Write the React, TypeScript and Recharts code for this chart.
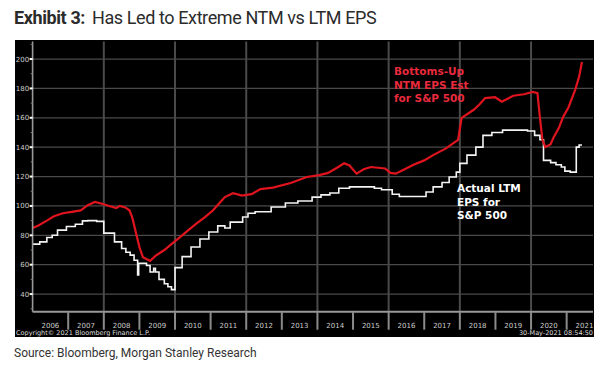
import { LineChart, Line, XAxis, YAxis, CartesianGrid } from "recharts"

// Bottoms-up NTM EPS estimate (red)
const ntmT = [
  2006.0, 2006.15, 2006.4, 2006.6, 2006.85, 2007.1, 2007.35, 2007.55, 2007.75, 2007.95,
  2008.15, 2008.35, 2008.45, 2008.6, 2008.72, 2008.8, 2008.9, 2009.0, 2009.1, 2009.3,
  2009.45, 2009.7, 2009.95, 2010.15, 2010.4, 2010.6, 2010.85, 2011.07, 2011.25, 2011.4,
  2011.63, 2011.88, 2012.15, 2012.4, 2012.75, 2013.25, 2013.7, 2014.05, 2014.3, 2014.55,
  2014.75, 2014.9, 2015.1, 2015.3, 2015.5, 2015.9, 2016.05, 2016.2, 2016.45, 2016.7,
  2017.0, 2017.25, 2017.6, 2017.95, 2018.05, 2018.38, 2018.55, 2018.71, 2018.99, 2019.18,
  2019.5, 2019.8, 2020.05, 2020.18, 2020.25, 2020.32, 2020.4, 2020.55, 2020.64, 2020.78,
  2020.9, 2021.05, 2021.24, 2021.35, 2021.43,
]
const ntmV = [
  85, 86.5, 90, 93, 95, 96, 97, 100.5, 102.7, 101.5,
  100, 98.5, 100, 99, 97, 92, 82, 72, 65, 62.5,
  66, 70, 75, 79, 84, 88, 92.5, 97, 102, 106,
  108.7, 107, 108, 111.5, 112.5, 115.6, 119.7, 121, 122.5, 126,
  129, 127.5, 122, 125, 126.5, 125.5, 122.5, 122, 125, 128,
  131, 134.6, 139, 145, 160, 165.3, 169, 173.4, 174, 171,
  175, 176, 177.6, 176.8, 160, 145, 140, 142, 147, 153,
  160.5, 167, 179, 188, 198,
]

// Actual LTM EPS (white, stepped)
const ltmT = [
  2006.0, 2006.2, 2006.4, 2006.55, 2006.7, 2006.95, 2007.2, 2007.4, 2007.55, 2007.8,
  2008.0, 2008.3, 2008.5, 2008.62, 2008.74, 2008.85, 2008.95, 2008.98, 2009.2, 2009.3,
  2009.4, 2009.45, 2009.55, 2009.7, 2009.8, 2009.9, 2010.0, 2010.2, 2010.45, 2010.7,
  2010.95, 2011.2, 2011.4, 2011.55, 2011.9, 2012.05, 2012.25, 2012.7, 2013.1, 2013.45,
  2013.85, 2014.1, 2014.35, 2014.6, 2014.9, 2015.6, 2015.8, 2016.1, 2016.3, 2017.05,
  2017.25, 2017.5, 2017.7, 2017.9, 2018.0, 2018.2, 2018.45, 2018.65, 2018.9, 2019.2,
  2019.9, 2020.1, 2020.25, 2020.35, 2020.55, 2020.7, 2020.85, 2020.95, 2021.1, 2021.27,
  2021.35, 2021.43,
]
const ltmV = [
  74, 75.5, 78.5, 80, 83.5, 86, 87.5, 89.8, 90, 89.5,
  81.5, 75.5, 71, 68.5, 66.5, 63, 53, 61, 59.5, 55,
  57.5, 55, 50, 47, 45, 43, 58, 65.5, 72, 77.5,
  82.3, 86.4, 85, 89, 92.5, 95, 96, 99.3, 102, 103.4,
  106, 107.5, 108.8, 112, 113, 112, 111, 108, 106.4, 109.5,
  113, 116, 119.7, 123, 129, 134.6, 140, 148, 150, 151.6,
  151, 148, 145, 131, 129.5, 128, 126.5, 123.7, 123, 140,
  141.5, 141.5,
]

const yearStarts = [2006, 2007, 2008, 2009, 2010, 2011, 2012, 2013, 2014, 2015, 2016, 2017, 2018, 2019, 2020, 2021]
const yearLabels = ["2006", "2007", "2008", "2009", "2010", "2011", "2012", "2013", "2014", "2015", "2016", "2017", "2018", "2019", "2020", "2021"]
const yTicks = [30, 40, 50, 60, 70, 80, 90, 100, 110, 120, 130, 140, 150, 160, 170, 180, 190, 200, 210]
const gridY = [40, 60, 80, 100, 120, 140, 160, 180, 200]
const gridX = [2008, 2010, 2012, 2014, 2016, 2018, 2020]

const ntmData = ntmT.map((t, i) => ({ t, v: ntmV[i] }))
const ltmData = ltmT.map((t, i) => ({ t, v: ltmV[i] }))

const X_DOMAIN: [number, number] = [2006, 2021.74]
const Y_DOMAIN: [number, number] = [28, 212]
const CHART_W = 579
const CHART_H = 297
const MARGIN = { top: 1.4, right: 1, bottom: 0, left: 0 }
const Y_AXIS_W = 17.6
const X_AXIS_H = 25.3
// half a year in pixels, to centre the year names between separators
const HALF_YEAR = (CHART_W - Y_AXIS_W - MARGIN.right) / (X_DOMAIN[1] - X_DOMAIN[0]) / 2

const axisFont = "'DejaVu Sans', sans-serif"
const gridColor = "#4a4a4a"

// eslint-disable-next-line @typescript-eslint/no-explicit-any
const YTick = ({ x, y, payload }: any) => {
  const major = payload.value % 20 === 0 && payload.value >= 40 && payload.value <= 200
  if (!major) {
    return <rect x={x - 2} y={y - 0.5} width={2} height={1} fill="#777" />
  }
  return (
    <g>
      <rect x={x - 3} y={y - 1} width={3} height={2} fill="#fff" />
      <text x={x - 3.5} y={y + 2.5} textAnchor="end" fontSize={7} fill="#ccc" fontFamily={axisFont}>
        {payload.value}
      </text>
    </g>
  )
}

// year separator below the axis plus the year name centred in its slot
// eslint-disable-next-line @typescript-eslint/no-explicit-any
const YearTick = ({ x, y, payload }: any) => {
  const i = yearStarts.indexOf(payload.value)
  return (
    <g>
      {i > 0 && <rect x={x - 1} y={y} width={2} height={18} fill="#8a8a8a" />}
      <text x={x + HALF_YEAR} y={y + 16} textAnchor="middle" fontSize={7} fill="#ccc" fontFamily={axisFont}>
        {yearLabels[i]}
      </text>
    </g>
  )
}

export default function App() {
  return (
    <div style={{ position: "absolute", left: 0, top: 0, width: 609, height: 370, background: "#fff", fontFamily: "Roboto, sans-serif" }}>
      <div style={{ position: "absolute", left: 14, top: 7, fontSize: 18, color: "#2b2b2b", whiteSpace: "nowrap", letterSpacing: -0.4 }}>
        <span style={{ fontWeight: 700 }}>Exhibit 3:</span>
        <span style={{ marginLeft: 7 }}>Has Led to Extreme NTM vs LTM EPS</span>
      </div>

      <div style={{ position: "absolute", left: 15, top: 40, width: CHART_W, height: CHART_H, background: "#000" }}>
        <LineChart width={CHART_W} height={CHART_H} margin={MARGIN}>
          <CartesianGrid stroke={gridColor} strokeWidth={1.2} vertical={false} horizontalValues={gridY} />
          <CartesianGrid stroke={gridColor} strokeWidth={2} horizontal={false} verticalValues={gridX} />
          <XAxis
            type="number"
            dataKey="t"
            domain={X_DOMAIN}
            allowDataOverflow
            ticks={yearStarts}
            interval={0}
            tick={<YearTick />}
            tickSize={0}
            tickMargin={0}
            tickLine={false}
            height={X_AXIS_H}
            axisLine={{ stroke: "#999", strokeWidth: 2 }}
          />
          <YAxis
            type="number"
            domain={Y_DOMAIN}
            allowDataOverflow
            ticks={yTicks}
            interval={0}
            width={Y_AXIS_W}
            tickSize={0}
            tickMargin={0}
            tickLine={false}
            axisLine={{ stroke: "#999", strokeWidth: 1.6 }}
            tick={<YTick />}
          />
          <Line
            data={ltmData}
            dataKey="v"
            type="stepAfter"
            stroke="#f4f4f4"
            strokeWidth={1.6}
            dot={false}
            isAnimationActive={false}
          />
          <Line
            data={ntmData}
            dataKey="v"
            type="linear"
            stroke="#e0141e"
            strokeWidth={2.2}
            dot={false}
            isAnimationActive={false}
          />
        </LineChart>

        <div style={{ position: "absolute", left: 379, top: 25, color: "#ea2a3c", fontFamily: axisFont, fontWeight: 700, fontSize: 10.5, lineHeight: "13.5px" }}>
          Bottoms-Up<br />NTM EPS Est<br />for S&amp;P 500
        </div>
        <div style={{ position: "absolute", left: 442, top: 142, color: "#fff", fontFamily: axisFont, fontWeight: 700, fontSize: 10.5, lineHeight: "13.5px" }}>
          Actual LTM<br />EPS for<br />S&amp;P 500
        </div>
        <div style={{ position: "absolute", left: 1, top: 290, color: "#ddd", fontFamily: axisFont, fontSize: 6.5, lineHeight: "7px", whiteSpace: "nowrap" }}>
          Copyright© 2021 Bloomberg Finance L.P.
        </div>
        <div style={{ position: "absolute", right: 1, top: 290, color: "#ddd", fontFamily: axisFont, fontSize: 6.5, lineHeight: "7px", whiteSpace: "nowrap" }}>
          30-May-2021 08:54:50
        </div>
      </div>

      <div style={{ position: "absolute", left: 14, top: 346, fontSize: 12, color: "#333", whiteSpace: "nowrap" }}>
        Source: Bloomberg, Morgan Stanley Research
      </div>
    </div>
  )
}
